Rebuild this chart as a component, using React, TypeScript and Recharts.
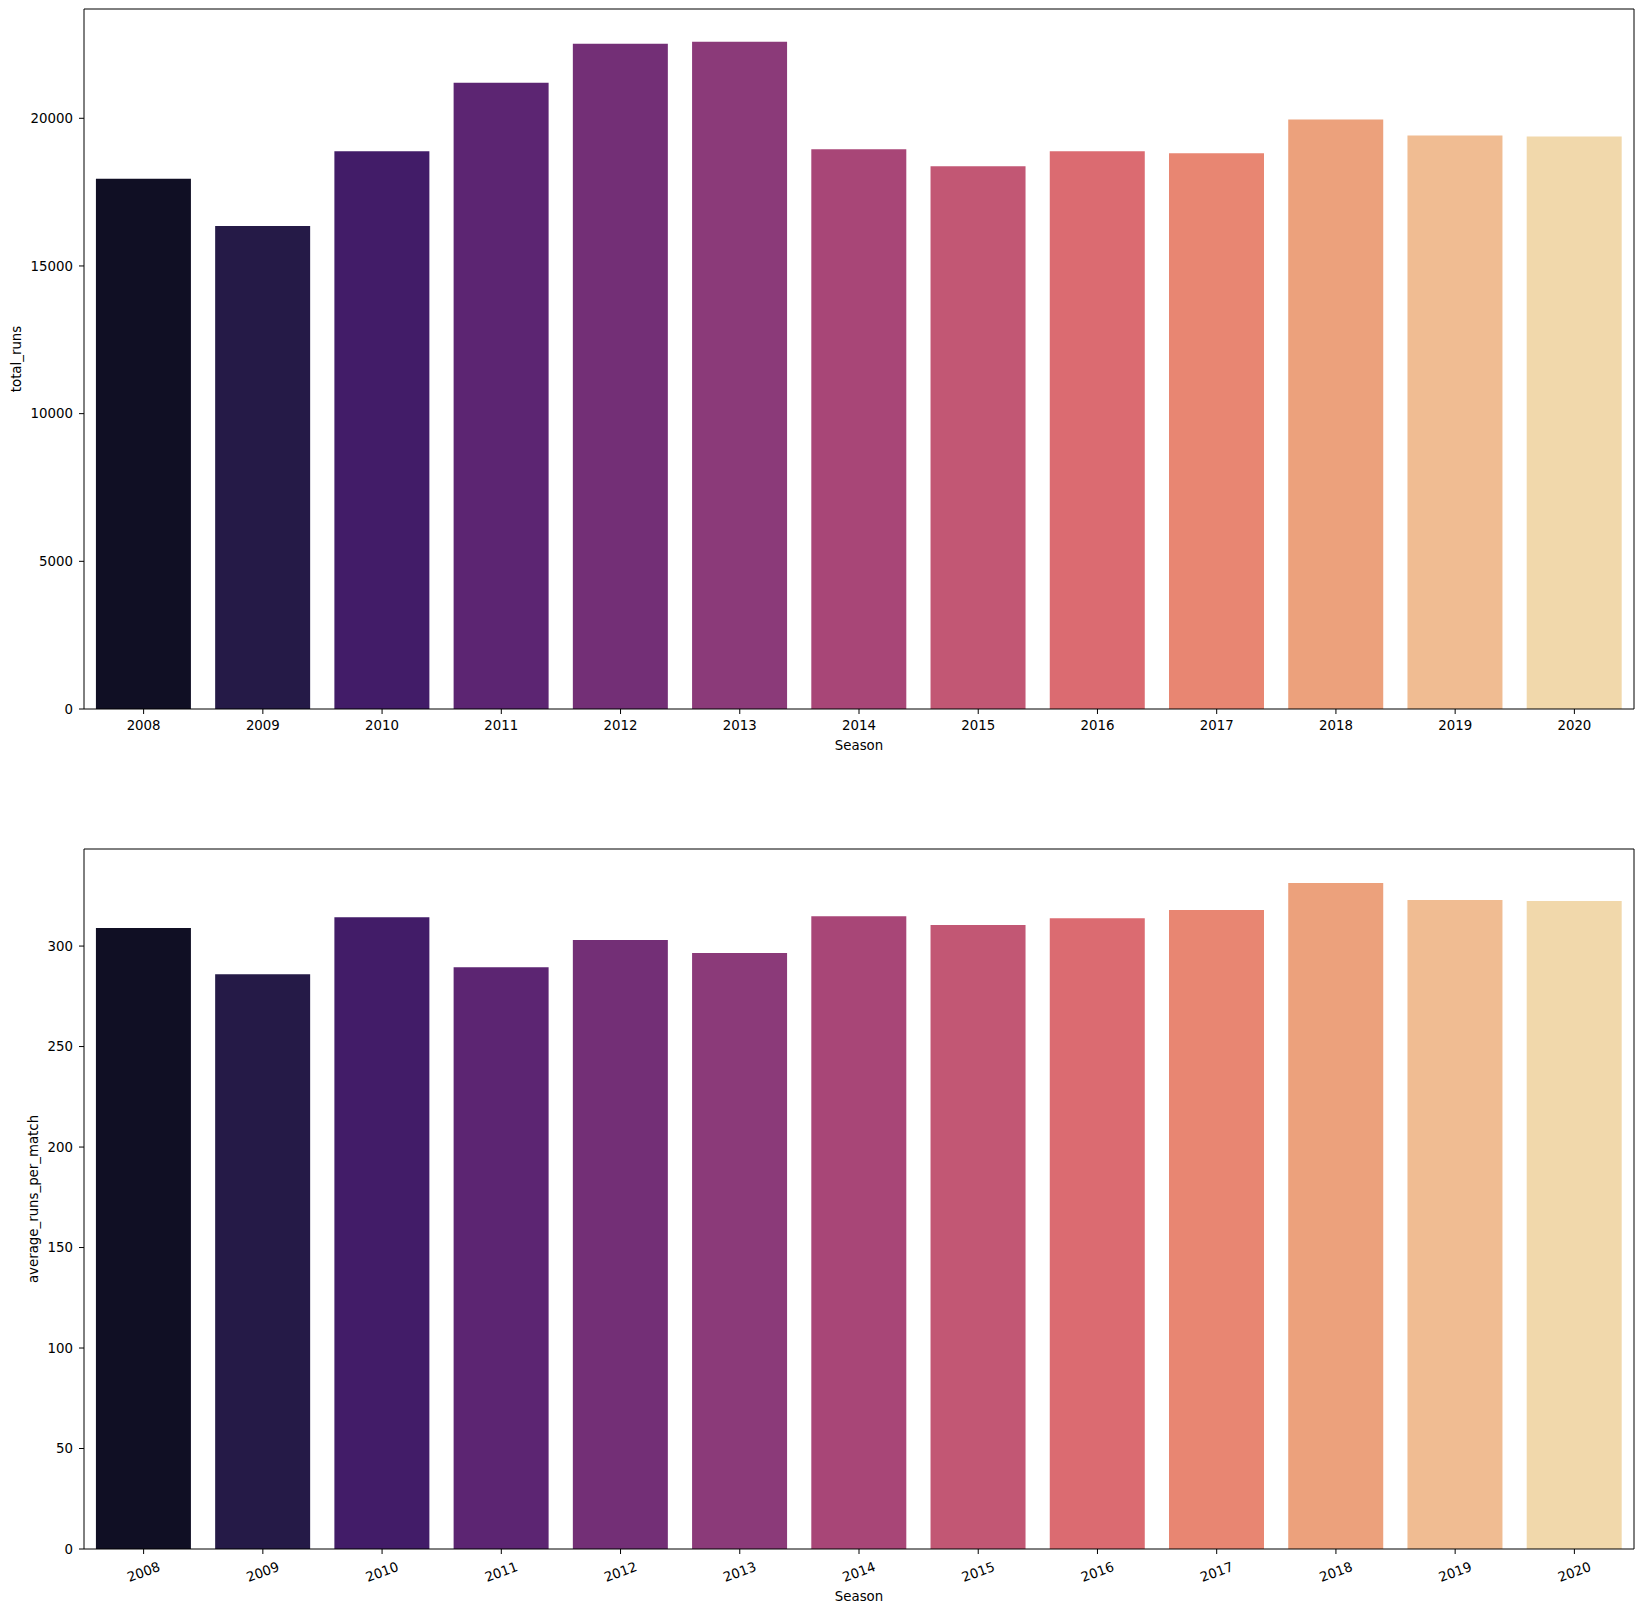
import React from 'react'
import { BarChart, Bar, XAxis, YAxis, Cell } from 'recharts'

const seasons = ['2008', '2009', '2010', '2011', '2012', '2013', '2014', '2015', '2016', '2017', '2018', '2019', '2020']
const totalRuns = [17950, 16350, 18880, 21200, 22520, 22590, 18950, 18380, 18880, 18820, 19960, 19420, 19380]
const avgRunsPerMatch = [309.0, 286.0, 314.4, 289.5, 303.0, 296.5, 314.9, 310.5, 313.9, 317.9, 331.4, 322.9, 322.4]
const totalTicks = [0, 5000, 10000, 15000, 20000]
const avgTicks = [0, 50, 100, 150, 200, 250, 300]

// magma palette, desaturated like seaborn's barplot default
const colors = [
  '#100f24', '#251a47', '#421c68', '#5c2572', '#732f76', '#8b3a79', '#a84677',
  '#c25774', '#db6b71', '#e88672', '#eca17c', '#f0bc92', '#f1d8ab',
]

const data = seasons.map((s, i) => ({ season: s, total_runs: totalRuns[i], avg: avgRunsPerMatch[i] }))

const font = 'DejaVu Sans'
const tickStyle = { fontSize: 13.33, fill: '#000', fontFamily: font }
const axisLine = { stroke: '#000', strokeWidth: 1 }

const RotatedTick = ({ x, y, payload }: any) => (
  <text
    x={x}
    y={y + 14}
    transform={`rotate(-20, ${x}, ${y + 14})`}
    textAnchor="middle"
    dominantBaseline="central"
    fontSize={13.33}
    fontFamily={font}
    fill="#000"
  >
    {payload.value}
  </text>
)

export default function App() {
  return (
    <div style={{ position: 'absolute', left: 0, top: 0, width: 1643, height: 1614, background: '#fff' }}>
      <div style={{ position: 'absolute', left: 0, top: 0 }}>
        <BarChart width={1643} height={770} data={data} barCategoryGap="10%" margin={{ top: 8, right: 8, left: 0, bottom: 0 }}>
          <XAxis
            dataKey="season"
            height={61}
            stroke="#000"
            tick={tickStyle}
            tickSize={5}
            tickMargin={7}
            axisLine={axisLine}
            tickLine={{ stroke: '#000' }}
            label={{ value: 'Season', position: 'insideTop', offset: 32, fontSize: 13.33, fill: '#000', fontFamily: font }}
          />
          <XAxis xAxisId="top" dataKey="season" orientation="top" height={1} stroke="#000" tick={false} tickLine={false} axisLine={axisLine} />
          <YAxis
            width={84}
            stroke="#000"
            domain={[0, 23700]}
            ticks={totalTicks}
            tick={tickStyle}
            tickSize={5}
            tickMargin={6}
            axisLine={axisLine}
            tickLine={{ stroke: '#000' }}
            label={{ value: 'total_runs', angle: -90, position: 'insideLeft', offset: 16, textAnchor: 'middle', fontSize: 13.33, fill: '#000', fontFamily: font }}
          />
          <YAxis yAxisId="right" orientation="right" width={1} stroke="#000" domain={[0, 23700]} tick={false} tickLine={false} axisLine={axisLine} />
          <Bar dataKey="total_runs" isAnimationActive={false}>
            {data.map((d, i) => <Cell key={d.season} fill={colors[i]} />)}
          </Bar>
        </BarChart>
      </div>
      <div style={{ position: 'absolute', left: 0, top: 800 }}>
        <BarChart width={1643} height={814} data={data} barCategoryGap="10%" margin={{ top: 48, right: 8, left: 0, bottom: 0 }}>
          <XAxis
            dataKey="season"
            height={65}
            stroke="#000"
            tick={<RotatedTick />}
            tickSize={5}
            tickMargin={4}
            axisLine={axisLine}
            tickLine={{ stroke: '#000' }}
            label={{ value: 'Season', position: 'insideTop', offset: 43, fontSize: 13.33, fill: '#000', fontFamily: font }}
          />
          <XAxis xAxisId="top" dataKey="season" orientation="top" height={1} stroke="#000" tick={false} tickLine={false} axisLine={axisLine} />
          <YAxis
            width={84}
            stroke="#000"
            domain={[0, 348.3]}
            ticks={avgTicks}
            tick={tickStyle}
            tickSize={5}
            tickMargin={6}
            axisLine={axisLine}
            tickLine={{ stroke: '#000' }}
            label={{ value: 'average_runs_per_match', angle: -90, position: 'insideLeft', offset: 33, textAnchor: 'middle', fontSize: 13.33, fill: '#000', fontFamily: font }}
          />
          <YAxis yAxisId="right" orientation="right" width={1} stroke="#000" domain={[0, 348.3]} tick={false} tickLine={false} axisLine={axisLine} />
          <Bar dataKey="avg" isAnimationActive={false}>
            {data.map((d, i) => <Cell key={d.season} fill={colors[i]} />)}
          </Bar>
        </BarChart>
      </div>
    </div>
  )
}
